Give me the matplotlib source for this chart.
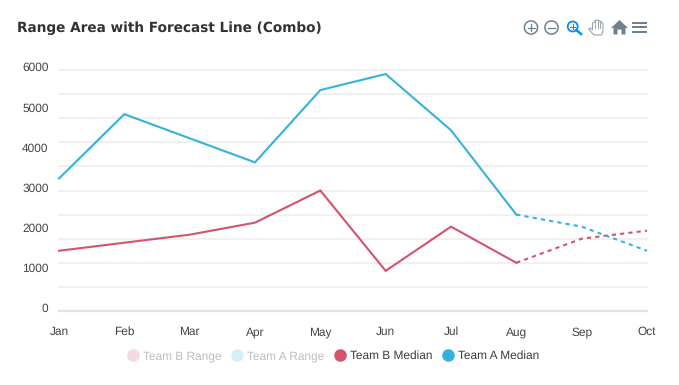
import matplotlib
matplotlib.use('Agg')
import matplotlib.pyplot as plt
import matplotlib.transforms as mtrans
from matplotlib.lines import Line2D
from matplotlib.patches import Circle, Polygon, Rectangle

plt.rcParams['font.family'] = ['Liberation Sans', 'DejaVu Sans']
plt.rcParams['text.hinting'] = 'none'

months = ['Jan', 'Feb', 'Mar', 'Apr', 'May', 'Jun', 'Jul', 'Aug', 'Sep', 'Oct']
team_a = [3300, 4900, 4300, 3700, 5500, 5900, 4500, 2400, 2100, 1500]
team_b = [1500, 1700, 1900, 2200, 3000, 1000, 2100, 1200, 1800, 2000]
solid_end = 7  # Aug, forecast after that
y_labels = [0, 1000, 2000, 3000, 4000, 5000, 6000]
grid_vals = [600, 1200, 1800, 2400, 3000, 3600, 4200, 4800, 5400, 6000]

blue = '#33b2df'
red = '#d4526e'

W, H = 679, 385
fig = plt.figure(figsize=(W / 100, H / 100), dpi=100)
ax = fig.add_axes([59 / W, 1 - 311 / H, (647 - 59) / W, (311 - 70) / H])

x = list(range(len(months)))
for vals, color in [(team_b, red), (team_a, blue)]:
    ax.plot(x[:solid_end + 1], vals[:solid_end + 1], color=color, lw=1.5,
            solid_joinstyle='miter', clip_on=False)
    ax.plot(x[solid_end:], vals[solid_end:], color=color, lw=1.5,
            dashes=(2, 2), clip_on=False)

ax.set_xlim(0, 9)
ax.set_ylim(0, 6000)
for g in grid_vals:
    ax.axhline(g, color='#ececec', lw=1.1, zorder=0, clip_on=False)
ax.axhline(0, color='#e2e2e2', lw=1.6, zorder=0, clip_on=False)

for s in ax.spines.values():
    s.set_visible(False)
ax.set_xticks(x, months)
ax.set_yticks(y_labels, [str(v) for v in y_labels])
ax.tick_params(length=0, labelsize=8.6, labelcolor='#444444')
ax.tick_params(axis='x', pad=17.3)
ax.tick_params(axis='y', pad=7.5)
for lab in ax.get_xticklabels():
    lab.set_verticalalignment('baseline')
shift = mtrans.ScaledTranslation(0, 3 / 100, fig.dpi_scale_trans)
for lab in ax.get_yticklabels():
    lab.set_transform(lab.get_transform() + shift)

fig.text(17 / W, 1 - 28 / H, 'Range Area with Forecast Line (Combo)', fontsize=9.85,
         fontweight='bold', color='#333333', va='center', family='DejaVu Sans')

# legend, range series are hidden so only their entries show
names = ['Team B Range', 'Team A Range', 'Team B Median', 'Team A Median']
leg_colors = ['#f6d9df', '#d5eff8', red, blue]
txt_colors = ['#bdbdbd', '#bdbdbd', '#373d3f', '#373d3f']
handles = [Line2D([], [], ls='', marker='o', ms=8, mfc=c, mec=c) for c in leg_colors]
leg = fig.legend(handles, names, ncols=4, loc='center', bbox_to_anchor=(334 / W, 1 - 356 / H),
                 frameon=False, fontsize=8.6, handlelength=0.7, handletextpad=0.45,
                 columnspacing=0.98, borderpad=0, borderaxespad=0)
for t, c in zip(leg.get_texts(), txt_colors):
    t.set_color(c)

# toolbar icons, in pixel coords
tb = fig.add_axes([0, 0, 1, 1])
tb.set_xlim(0, W)
tb.set_ylim(H, 0)
tb.axis('off')
tb.patch.set_alpha(0)
grey = '#6e8192'

for cx, plus in [(531, True), (551.5, False)]:
    tb.add_patch(Circle((cx, 27.5), 6.6, fc='none', ec=grey, lw=1.1))
    tb.plot([cx - 3.5, cx + 3.5], [27.5, 27.5], color=grey, lw=0.9)
    if plus:
        tb.plot([cx, cx], [24, 31], color=grey, lw=0.9)

zoom_c = '#008ffb'
tb.add_patch(Circle((572.7, 26.5), 5, fc='none', ec=zoom_c, lw=1.3))
tb.plot([576.3, 581], [30, 34], color=zoom_c, lw=1.8)
tb.plot([570.2, 575.2], [26.5, 26.5], color=zoom_c, lw=0.7)
tb.plot([572.7, 572.7], [24, 29], color=zoom_c, lw=0.7)

hand = [(588.5, 29), (590.5, 28), (592.5, 30), (592.5, 23), (594.5, 22), (595, 20.5), (598, 20), (599.5, 21),
        (601.5, 21.5), (602, 23), (603, 23.5), (603, 31), (601.5, 35), (594, 35), (592, 33)]
tb.add_patch(Polygon(hand, closed=True, fc='white', ec='#98a5b1', lw=0.8))
for fx, ftop in [(595, 21), (597.5, 20.5), (600, 21.5)]:
    tb.plot([fx, fx], [ftop, 28], color='#98a5b1', lw=0.7)

tb.add_patch(Polygon([(611, 28), (619.5, 20), (628, 28), (625.5, 28), (625.5, 34.5), (621.5, 34.5),
                      (621.5, 29.5), (617.5, 29.5), (617.5, 34.5), (613.5, 34.5), (613.5, 28)],
                     closed=True, fc=grey, ec='none'))

for yy in [22.7, 27.4, 32.2]:
    tb.add_patch(Rectangle((632, yy - 1), 15, 2, fc=grey, ec='none'))

fig.savefig('out.png', dpi=100)
